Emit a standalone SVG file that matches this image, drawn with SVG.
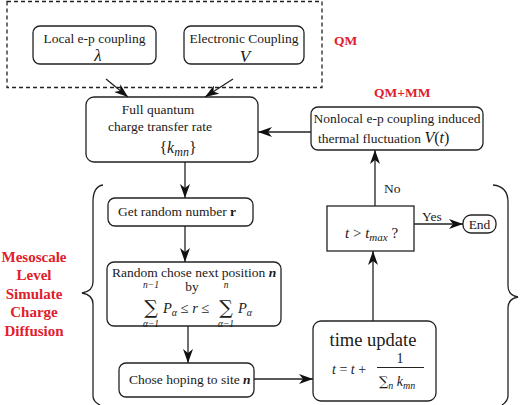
<svg xmlns="http://www.w3.org/2000/svg" width="520" height="405" viewBox="0 0 520 405">
<defs>
<style>
.box{fill:#fff;stroke:#222;stroke-width:1.3}
.t{font-family:"Liberation Serif",serif;font-size:13.5px;fill:#1a1a1a}
.m{font-family:"Liberation Serif",serif;font-style:italic;fill:#1a1a1a}
.s{font-family:"DejaVu Serif",serif;fill:#1a1a1a}
.red{font-family:"Liberation Serif",serif;font-weight:bold;fill:#e0202a}
.ln{fill:none;stroke:#222;stroke-width:1.3}
</style>
<marker id="ah" viewBox="0 0 14 10" refX="14" refY="5" markerWidth="14" markerHeight="10" markerUnits="userSpaceOnUse" orient="auto">
<path d="M0,0 L14,5 L0,10 L4,5 z" fill="#111"/>
</marker>
</defs>
<rect width="520" height="405" fill="#fff"/>

<g id="qm-region">
<rect x="7" y="1.5" width="315" height="86" fill="none" stroke="#222" stroke-width="1.3" stroke-dasharray="4,3"/>
<text class="red" x="334" y="45" font-size="13.5">QM</text>
</g>

<g id="local">
<rect class="box" x="33" y="26" width="123" height="38" rx="7"/>
<text class="t" x="94.5" y="43" text-anchor="middle">Local e-p coupling</text>
<text class="m" x="98" y="61" font-size="17" text-anchor="middle">λ</text>
</g>

<g id="electronic">
<rect class="box" x="184" y="26" width="120" height="38" rx="7"/>
<text class="t" x="244" y="43" text-anchor="middle">Electronic Coupling</text>
<text class="m" x="245" y="62" font-size="17" text-anchor="middle">V</text>
</g>

<g id="full">
<rect class="box" x="86" y="97" width="172" height="65" rx="8"/>
<text class="t" x="158" y="114" text-anchor="middle">Full quantum</text>
<text class="t" x="160" y="131" text-anchor="middle">charge transfer rate</text>
<text class="m" x="178" y="153" text-anchor="middle" font-size="16"><tspan font-style="normal">{</tspan>k<tspan font-size="12" dy="3">mn</tspan><tspan font-style="normal" dy="-3">}</tspan></text>
</g>

<g id="qmmm-label">
<text class="red" x="374" y="97" font-size="13.5">QM+MM</text>
</g>

<g id="nonlocal">
<rect class="box" x="311" y="107" width="172" height="43" rx="7"/>
<text class="t" x="397" y="123" text-anchor="middle">Nonlocal e-p coupling induced</text>
<text x="318" y="143"><tspan class="t">thermal fluctuation </tspan><tspan class="m" font-size="16">V<tspan font-style="normal">(</tspan>t<tspan font-style="normal">)</tspan></tspan></text>
</g>

<g id="getrandom">
<rect class="box" x="108" y="198" width="145" height="28" rx="7"/>
<text x="118" y="216" class="t">Get random number <tspan font-weight="bold">r</tspan></text>
</g>

<g id="randomchose">
<rect class="box" x="107" y="262" width="174" height="64" rx="7"/>
<text x="112" y="277" class="t">Random chose next position <tspan font-weight="bold" font-style="italic">n</tspan></text>
<text x="192" y="291" class="t" text-anchor="middle">by</text>
<text class="m" x="151" y="288" font-size="9.5" text-anchor="middle">n−1</text>
<text class="s" x="151" y="314" font-size="19" text-anchor="middle">∑</text>
<text class="m" x="151" y="327" font-size="9.5" text-anchor="middle">α−1</text>
<text class="m" x="163" y="313" font-size="14.5">P<tspan font-size="10" dy="3">α</tspan><tspan dy="-3" font-style="normal"> ≤ </tspan>r<tspan font-style="normal"> ≤</tspan></text>
<text class="m" x="226" y="288" font-size="9.5" text-anchor="middle">n</text>
<text class="s" x="226" y="314" font-size="19" text-anchor="middle">∑</text>
<text class="m" x="226" y="327" font-size="9.5" text-anchor="middle">α−1</text>
<text class="m" x="238" y="313" font-size="14.5">P<tspan font-size="10" dy="3">α</tspan></text>
</g>

<g id="chosehoping">
<rect class="box" x="119" y="363" width="135" height="34" rx="7"/>
<text x="129" y="384" class="t">Chose hoping to site <tspan font-weight="bold" font-style="italic">n</tspan></text>
</g>

<g id="timeupdate">
<rect class="box" x="313" y="321" width="123" height="80" rx="8"/>
<text x="373" y="346" class="t" style="font-size:18.5px" text-anchor="middle">time update</text>
<text x="332" y="374" class="m" font-size="14">t<tspan font-style="normal"> = </tspan>t<tspan font-style="normal"> +</tspan></text>
<text x="400" y="363" class="t" style="font-size:14px" text-anchor="middle">1</text>
<line x1="377" y1="367.5" x2="424" y2="367.5" stroke="#222" stroke-width="1"/>
<text x="379" y="386" class="s" font-size="13">∑<tspan class="m" font-size="10" dy="3">n</tspan><tspan class="m" font-size="14" dy="-3"> k</tspan><tspan class="m" font-size="10" dy="3">mn</tspan></text>
</g>

<g id="decision">
<rect class="box" x="327" y="206" width="87" height="45"/>
<text x="345" y="238" class="m" font-size="15">t<tspan font-style="normal"> &gt; </tspan>t<tspan font-size="11" dy="3">max</tspan><tspan font-style="normal" dy="-3"> ?</tspan></text>
</g>

<g id="end">
<rect class="box" x="463" y="215" width="33" height="18" rx="8"/>
<text x="479.5" y="229" class="t" text-anchor="middle">End</text>
</g>

<g id="mesoscale">
<text class="red" font-size="15" text-anchor="middle"><tspan x="34" y="262">Mesoscale</tspan><tspan x="34" y="280">Level</tspan><tspan x="34" y="299">Simulate</tspan><tspan x="34" y="317">Charge</tspan><tspan x="34" y="336">Diffusion</tspan></text>
</g>

<g id="braces">
<path class="ln" d="M103,185 C96,186 93,192 93,202 L93,282 C93,289 88,292 82,293 C88,294 93,297 93,304 L93,396 C93,400 96,403 100,405"/>
<path class="ln" d="M493,185 C503,186 508,192 508,202 L508,286 C508,293 512,296 518,297 C512,298 508,301 508,308 L508,396 C508,400 505,403 502,405"/>
</g>

<g id="connectors">
<line class="ln" x1="106" y1="79" x2="128" y2="97" marker-end="url(#ah)"/>
<line class="ln" x1="233" y1="79" x2="205" y2="97" marker-end="url(#ah)"/>
<line class="ln" x1="311" y1="132" x2="258" y2="132" marker-end="url(#ah)"/>
<line class="ln" x1="185" y1="162" x2="185" y2="198" marker-end="url(#ah)"/>
<line class="ln" x1="185" y1="226" x2="185" y2="262" marker-end="url(#ah)"/>
<line class="ln" x1="188" y1="326" x2="188" y2="363" marker-end="url(#ah)"/>
<line class="ln" x1="254" y1="379" x2="313" y2="379" marker-end="url(#ah)"/>
<line class="ln" x1="373" y1="321" x2="373" y2="251" marker-end="url(#ah)"/>
<line class="ln" x1="375" y1="206" x2="375" y2="150" marker-end="url(#ah)"/>
<line class="ln" x1="414" y1="224" x2="463" y2="224" marker-end="url(#ah)"/>
<text class="t" x="384" y="193">No</text>
<text class="t" x="422" y="221">Yes</text>
</g>
</svg>
